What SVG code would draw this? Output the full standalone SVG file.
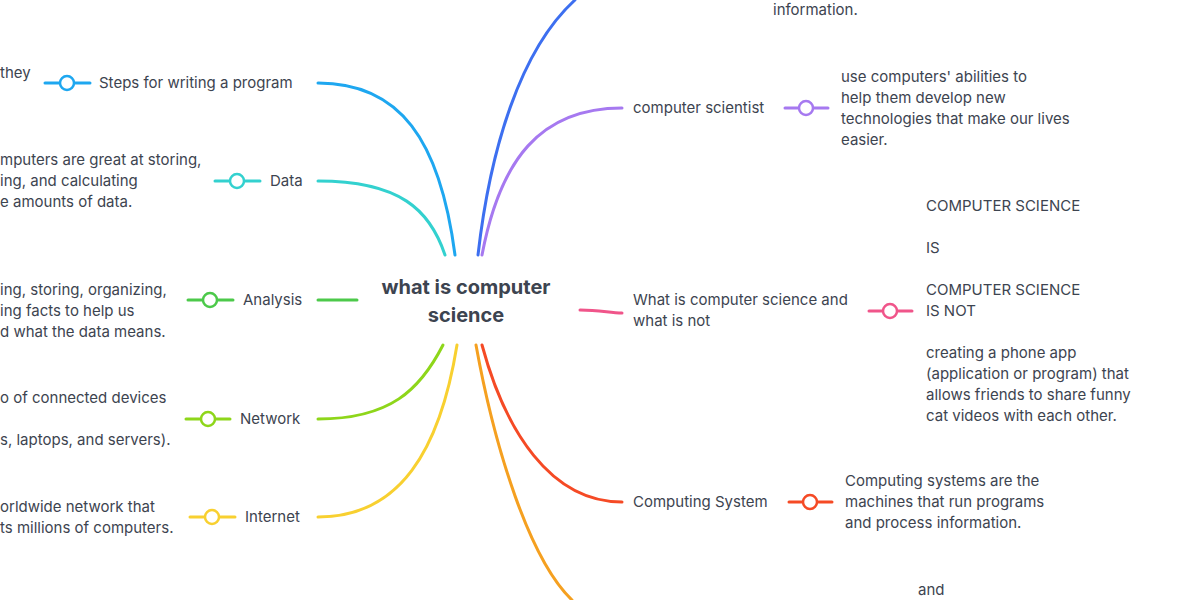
<svg xmlns="http://www.w3.org/2000/svg" width="1200" height="600" viewBox="0 0 1200 600">
<style>
text{font-family:"Inter","Liberation Sans",sans-serif;font-size:15px;fill:#3d4450}
.c{fill:none;stroke-width:3;stroke-linecap:round}
.r{fill:#fff;stroke-width:2.5}
.t{font-size:20px;font-weight:bold;text-anchor:middle}
</style>
<rect width="1200" height="600" fill="#fff"/>
<g id="connectors">
<path class="c" stroke="#1ea7f0" d="M455,255 C440,140 400,83 318,83"/>
<path class="c" stroke="#33d1cf" d="M445,255 C430,210 400,181 318,181"/>
<path class="c" stroke="#4cc94a" d="M318,300 L357,300"/>
<path class="c" stroke="#8ed61a" d="M443,345 C420,390 390,419 318,419"/>
<path class="c" stroke="#f8d030" d="M457,345 C440,450 400,517 318,517"/>
<path class="c" stroke="#3d6ff0" d="M478,255 C490,150 520,50 575,0"/>
<path class="c" stroke="#a679f0" d="M482,255 C500,160 540,108 622,108"/>
<path class="c" stroke="#f0558a" d="M580,310 C600,310 610,313 622,313"/>
<path class="c" stroke="#f54a25" d="M482,345 C505,430 550,502 622,502"/>
<path class="c" stroke="#f5a020" d="M476,345 C495,450 530,560 572,600"/>
</g>
<g id="center"><text class="t" x="466" y="294">what is computer</text><text class="t" x="466" y="322">science</text></g>
<g id="steps"><line class="c" stroke="#1ea7f0" x1="45" y1="83" x2="90" y2="83"/><circle class="r" stroke="#1ea7f0" cx="67" cy="83" r="7"/><text x="99" y="88">Steps for writing a program</text><text x="0" y="78">they</text></g>
<g id="data"><line class="c" stroke="#33d1cf" x1="215" y1="181" x2="260" y2="181"/><circle class="r" stroke="#33d1cf" cx="237" cy="181" r="7"/><text x="270" y="186">Data</text><text x="0" y="165">mputers are great at storing,</text><text x="0" y="186">ing, and calculating</text><text x="0" y="207">e amounts of data.</text></g>
<g id="analysis"><line class="c" stroke="#4cc94a" x1="188" y1="300" x2="233" y2="300"/><circle class="r" stroke="#4cc94a" cx="210" cy="300" r="7"/><text x="243" y="305">Analysis</text><text x="0" y="295">ing, storing, organizing,</text><text x="0" y="316">ing facts to help us</text><text x="0" y="337">d what the data means.</text></g>
<g id="network"><line class="c" stroke="#8ed61a" x1="186" y1="419" x2="230" y2="419"/><circle class="r" stroke="#8ed61a" cx="208" cy="419" r="7"/><text x="240" y="424">Network</text><text x="0" y="403">o of connected devices</text><text x="0" y="445">s, laptops, and servers).</text></g>
<g id="internet"><line class="c" stroke="#f8d030" x1="190" y1="517" x2="235" y2="517"/><circle class="r" stroke="#f8d030" cx="212" cy="517" r="7"/><text x="245" y="522">Internet</text><text x="0" y="512">orldwide network that</text><text x="0" y="533">ts millions of computers.</text></g>
<g id="top"><text x="773" y="15">information.</text></g>
<g id="scientist"><line class="c" stroke="#a679f0" x1="785" y1="108" x2="828" y2="108"/><circle class="r" stroke="#a679f0" cx="806" cy="108" r="7"/><text x="633" y="113">computer scientist</text><text x="841" y="82">use computers' abilities to</text><text x="841" y="103">help them develop new</text><text x="841" y="124">technologies that make our lives</text><text x="841" y="145">easier.</text></g>
<g id="whatis"><line class="c" stroke="#f0558a" x1="869" y1="311" x2="912" y2="311"/><circle class="r" stroke="#f0558a" cx="890" cy="311" r="7"/><text x="633" y="305">What is computer science and</text><text x="633" y="326">what is not</text><text x="926" y="211">COMPUTER SCIENCE</text><text x="926" y="253">IS</text><text x="926" y="295">COMPUTER SCIENCE</text><text x="926" y="316">IS NOT</text><text x="926" y="358">creating a phone app</text><text x="926" y="379">(application or program) that</text><text x="926" y="400">allows friends to share funny</text><text x="926" y="421">cat videos with each other.</text></g>
<g id="computing"><line class="c" stroke="#f54a25" x1="789" y1="502" x2="832" y2="502"/><circle class="r" stroke="#f54a25" cx="810" cy="502" r="7"/><text x="633" y="507">Computing System</text><text x="845" y="486">Computing systems are the</text><text x="845" y="507">machines that run programs</text><text x="845" y="528">and process information.</text></g>
<g id="bottom"><text x="918" y="595">and</text></g>
</svg>
